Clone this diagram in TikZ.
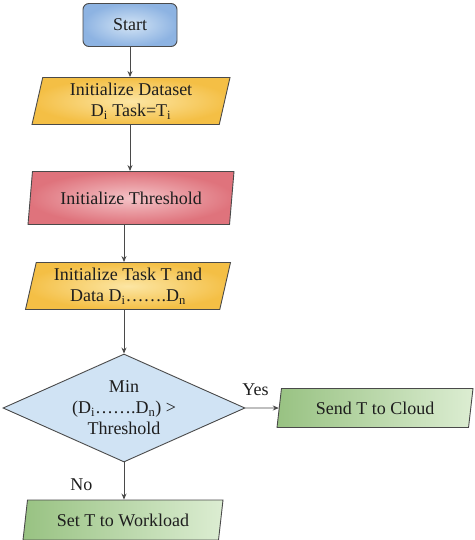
\documentclass[tikz,border=0pt]{standalone}
\usepackage{fontspec}
\setmainfont{Liberation Serif}
\usetikzlibrary{shapes.geometric,arrows.meta}
\definecolor{edgegray}{HTML}{4A4A4A}
\definecolor{textgray}{HTML}{1E1E1E}
\definecolor{startout}{HTML}{8DB3E2}
\definecolor{startin}{HTML}{D3E4F5}
\definecolor{yellowout}{HTML}{F4BF45}
\definecolor{yellowin}{HTML}{FCE6A4}
\definecolor{redout}{HTML}{DF737C}
\definecolor{redin}{HTML}{F4C3C7}
\definecolor{decfill}{HTML}{D0E3F4}
\definecolor{greenout}{HTML}{98C282}
\definecolor{greenin}{HTML}{DCEDD2}

\begin{document}
\begin{tikzpicture}[x=1pt,y=-1pt,
    font=\fontsize{18}{21}\selectfont,
    box/.style={draw=edgegray, line width=0.9pt, align=center, inner sep=2pt, text=textgray},
    iobox/.style={box, trapezium, trapezium left angle=75, trapezium right angle=105, trapezium stretches body},
    arr/.style={draw=edgegray, line width=0.8pt, -{Stealth[length=6pt,width=5pt]}}]
    \useasboundingbox (0,0) rectangle (474,540);

    % main column
    \node[box, rounded corners=6pt, minimum width=94pt, minimum height=43pt, inner color=startin, outer color=startout] (start) at (130,25) {Start};
    \node[iobox, minimum width=198pt, minimum height=47pt, inner color=yellowin, outer color=yellowout] (data) at (131,101) {Initialize Dataset\\D\textsubscript{i} Task=T\textsubscript{i}};
    \node[iobox, minimum width=206pt, minimum height=53pt, inner color=redin, outer color=redout] (thresh) at (131,198) {Initialize Threshold};
    \node[iobox, minimum width=205pt, minimum height=47pt, inner color=yellowin, outer color=yellowout] (task) at (128,286) {Initialize Task T and\\Data D\textsubscript{i}…….D\textsubscript{n}};
    \node[box, diamond, aspect=2.24, minimum width=242pt, minimum height=108pt, inner sep=0pt, fill=decfill] (dec) at (124,408) {Min\\(D\textsubscript{i}…….D\textsubscript{n}) >\\Threshold};

    % outcomes
    \node[iobox, minimum width=196pt, minimum height=39pt, left color=greenout, right color=greenin] (send) at (375,408) {Send T to Cloud};
    \node[iobox, minimum width=200pt, minimum height=40pt, left color=greenout, right color=greenin] (work) at (123,520) {Set T to Workload};

    \draw[arr] (start.south) -- (start.south |- data.north);
    \draw[arr] (start.south |- data.south) -- (start.south |- thresh.north);
    \draw[arr] (dec.north |- thresh.south) -- (dec.north |- task.north);
    \draw[arr] (dec.north |- task.south) -- (dec.north);
    \draw[arr] (dec.east) -- (send.west) node[pos=.3, above=9pt, text=textgray]{Yes};
    \draw[arr] (dec.south) -- (dec.south |- work.north) node[pos=.6, left=28pt, text=textgray]{No};
\end{tikzpicture}
\end{document}
